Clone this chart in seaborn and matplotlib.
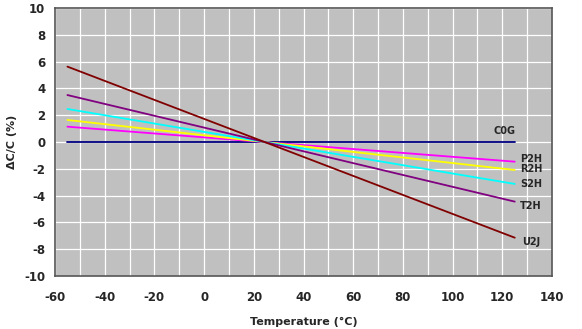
import matplotlib
matplotlib.use("Agg")
import matplotlib.pyplot as plt
import seaborn as sns
import pandas as pd
import numpy as np

temps = [-55, 125]
series = ["C0G", "P2H", "R2H", "S2H", "T2H", "U2J"]
c0g = [0.0, 0.0]
p2h = [1.14, -1.47]
r2h = [1.64, -2.09]
s2h = [2.46, -3.13]
t2h = [3.50, -4.45]
u2j = [5.62, -7.14]
colors = ["#000080", "#FF00FF", "#FFFF00", "#00FFFF", "#800080", "#800000"]
label_y = [0.8, -1.3, -2.0, -3.15, -4.75, -7.45]
xticks = [-60, -40, -20, 0, 20, 40, 60, 80, 100, 120, 140]
yticks = [-10, -8, -6, -4, -2, 0, 2, 4, 6, 8, 10]

vals = [c0g, p2h, r2h, s2h, t2h, u2j]
df = pd.DataFrame({
    "T": temps * len(series),
    "dC": [v for s in vals for v in s],
    "series": [n for n in series for _ in temps],
})

sns.set_style("white")
plt.rcParams['font.family'] = ['DejaVu Sans']
plt.rcParams['axes.unicode_minus'] = False
fig = plt.figure(figsize=(5.82, 3.29), dpi=100)
ax = fig.add_axes([0.0945, 0.161, 0.854, 0.815])
ax.set_facecolor("#C0C0C0")

sns.lineplot(data=df, x="T", y="dC", hue="series", palette=dict(zip(series, colors)),
             legend=False, ax=ax, linewidth=1.3)

ax.set_xlim(-60, 140)
ax.set_ylim(-10, 10)
ax.set_xticks(xticks)
ax.set_xticks(np.arange(-50, 140, 20), minor=True)
ax.set_yticks(yticks)
ax.grid(True, which="both", color="white", linewidth=0.9)
ax.set_axisbelow(True)
ax.tick_params(axis="both", which="both", length=0, labelsize=8.5)
ax.tick_params(axis="x", pad=11)
ax.tick_params(axis="y", pad=7)
for lab in ax.get_xticklabels() + ax.get_yticklabels():
    lab.set_fontweight("bold")
for sp in ax.spines.values():
    sp.set_visible(True)
    sp.set_color("#555555")
    sp.set_linewidth(1.2)

ax.set_xlabel("Temperature (°C)", fontsize=8, fontweight="bold")
ax.set_ylabel("ΔC/C (%)", fontsize=8, fontweight="bold")
ax.xaxis.set_label_coords(0.5, -0.17, transform=ax.transAxes)
ax.yaxis.set_label_coords(-0.086, 0.5, transform=ax.transAxes)
ax.xaxis.label.set_va("center")
ax.yaxis.label.set_va("center")

for name, ly in zip(series, label_y):
    if name == "C0G":
        ax.text(121, ly, name, fontsize=7, fontweight="bold", ha="center", va="center")
    else:
        ax.text(131.5, ly, name, fontsize=7, fontweight="bold", ha="center", va="center")

fig.savefig("out.png", dpi=100)
